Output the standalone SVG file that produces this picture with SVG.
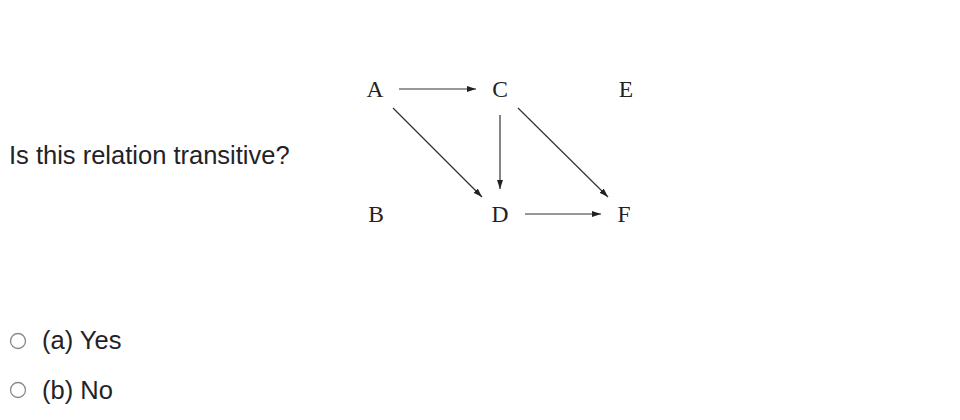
<svg xmlns="http://www.w3.org/2000/svg" width="960" height="420" viewBox="0 0 960 420">
<defs>
<marker id="ah" markerWidth="10" markerHeight="8" refX="9" refY="4" orient="auto" markerUnits="userSpaceOnUse">
<path d="M0,1 L9,4 L0,7 Z" fill="#222"/>
</marker>
<style>
.q{font-family:"Liberation Sans",Arial,sans-serif;font-size:25.5px;fill:#1f2328}
.n{font-family:"Liberation Serif","Times New Roman",serif;font-size:23.5px;fill:#222;text-anchor:middle}
.e{stroke:#333;stroke-width:1.2;fill:none;marker-end:url(#ah)}
.r{fill:#fff;stroke:#8a8a8a;stroke-width:1.3}
</style>
</defs>
<rect width="960" height="420" fill="#fff"/>
<text class="q" x="9" y="164">Is this relation transitive?</text>
<g id="optA"><circle class="r" cx="18" cy="341" r="7.5"/><text class="q" x="42" y="349">(a) Yes</text></g>
<g id="optB"><circle class="r" cx="18" cy="390" r="7.5"/><text class="q" x="42" y="399">(b) No</text></g>
<g id="A"><text class="n" x="375" y="97">A</text></g>
<g id="C"><text class="n" x="500" y="97">C</text></g>
<g id="E"><text class="n" x="626" y="97">E</text></g>
<g id="B"><text class="n" x="376" y="222">B</text></g>
<g id="D"><text class="n" x="500" y="222">D</text></g>
<g id="F"><text class="n" x="624" y="222">F</text></g>
<g id="edges">
<line class="e" x1="399" y1="89" x2="476" y2="89"/>
<line class="e" x1="393" y1="108" x2="482" y2="197"/>
<line class="e" x1="500" y1="115" x2="500" y2="189"/>
<line class="e" x1="518" y1="108" x2="608" y2="197"/>
<line class="e" x1="525" y1="214" x2="601" y2="214"/>
</g>
</svg>
